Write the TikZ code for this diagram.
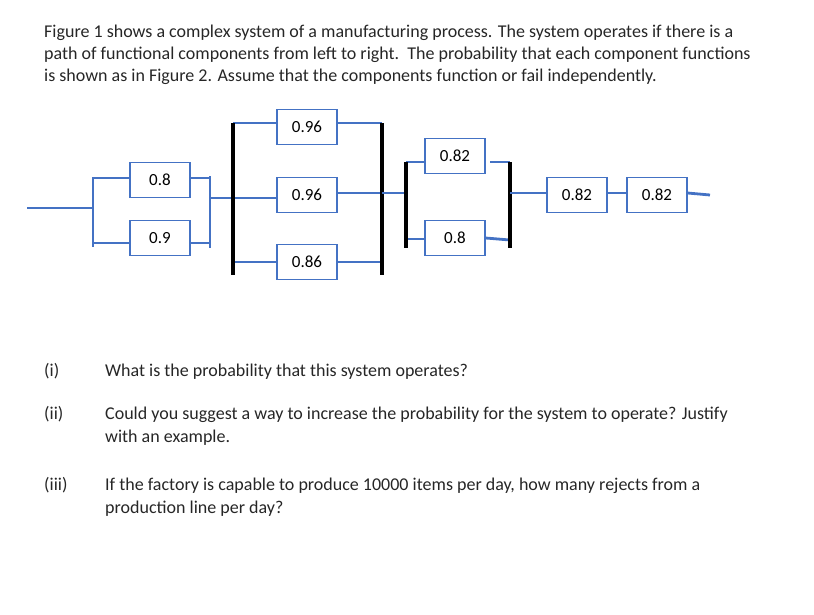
\documentclass[tikz,border=0pt]{standalone}
\usepackage{fontspec}
\setmainfont{Carlito}
\begin{document}
\begin{tikzpicture}[x=1pt,y=-1pt,
  comp/.style={draw={rgb,255:red,68;green,114;blue,196}, line width=1.3pt, minimum width=60pt, minimum height=35pt, inner sep=0pt, font=\fontsize{17}{19}\selectfont, fill=white},
  wire/.style={draw={rgb,255:red,68;green,114;blue,196}, line width=2.8pt},
  bar/.style={draw=black, line width=3.2pt},
  txt/.style={anchor=base west, inner sep=0pt, font=\fontsize{18}{22}\selectfont, text=black!85}]
\useasboundingbox (0,0) rectangle (814,614);
\node[txt] (l1) at (44,37) {Figure 1 shows a complex system of a manufacturing process. The system operates if there is a};
\node[txt] (l2) at (44,59) {path of functional components from left to right.\ \ The probability that each component functions};
\node[txt] (l3) at (44,81) {is shown as in Figure 2. Assume that the components function or fail independently.};
% nodes
\node[comp] (a) at (160,180) {0.8};
\node[comp] (b) at (160,238) {0.9};
\node[comp] (c) at (307,127) {0.96};
\node[comp] (d) at (307,195) {0.96};
\node[comp] (e) at (307,262) {0.86};
\node[comp] (f) at (455,156) {0.82};
\node[comp] (g) at (455,238) {0.8};
\node[comp] (h) at (577,195) {0.82};
\node[comp] (i) at (657,195) {0.82};
\coordinate (in) at (27,208);
\coordinate (out) at (710,195);
% bracket 1
\draw[wire, line width=1.8pt] (in) -- (93,208);
\draw[wire] (93,177) -- (93,247);
\draw[wire] (93,178) -- (a.west |- 0,178);
\draw[wire] (93,243) -- (b.west |- 0,243);
\draw[wire] (a.east |- 0,178) -- (210,178);
\draw[wire] (b.east |- 0,243) -- (210,243);
\draw[wire] (210,176) -- (210,248);
\draw[wire] (210,198) -- (233,198);
% group 2
\draw[wire] (233,123) -- (c.west |- 0,123);
\draw[wire] (233,198) -- (d.west |- 0,198);
\draw[wire] (233,262) -- (e.west);
\draw[wire] (c.east |- 0,123) -- (382,123);
\draw[wire] (d.east |- 0,193) -- (382,193);
\draw[wire] (e.east) -- (382,262);
\draw[bar] (233,123) -- (233,275);
\draw[bar] (382,123) -- (382,275);
% group 3
\draw[wire] (382,193) -- (406,193);
\draw[wire] (406,162) -- (f.west |- 0,162);
\draw[wire] (406,239) -- (g.west |- 0,239);
\draw[wire] (490,162) -- (510,162);
\draw[wire] (g.east) -- (510,240);
\draw[bar] (406,162) -- (406,248);
\draw[bar] (510,162) -- (510,248);
\draw[wire] (510,193) -- (h.west |- 0,193);
\draw[wire] (h.east |- 0,193) -- (i.west |- 0,193);
\draw[wire] (i.east |- 0,193) -- (out);
% questions
\node[txt] (q1) at (44,376) {(i)};
\node[txt] (q1t) at (105,376) {What is the probability that this system operates?};
\node[txt] (q2) at (44,419) {(ii)};
\node[txt] (q2t) at (105,419) {Could you suggest a way to increase the probability for the system to operate? Justify};
\node[txt] (q2u) at (105,442) {with an example.};
\node[txt] (q3) at (44,490) {(iii)};
\node[txt] (q3t) at (105,490) {If the factory is capable to produce 10000 items per day, how many rejects from a};
\node[txt] (q3u) at (105,513) {production line per day?};
\end{tikzpicture}
\end{document}
